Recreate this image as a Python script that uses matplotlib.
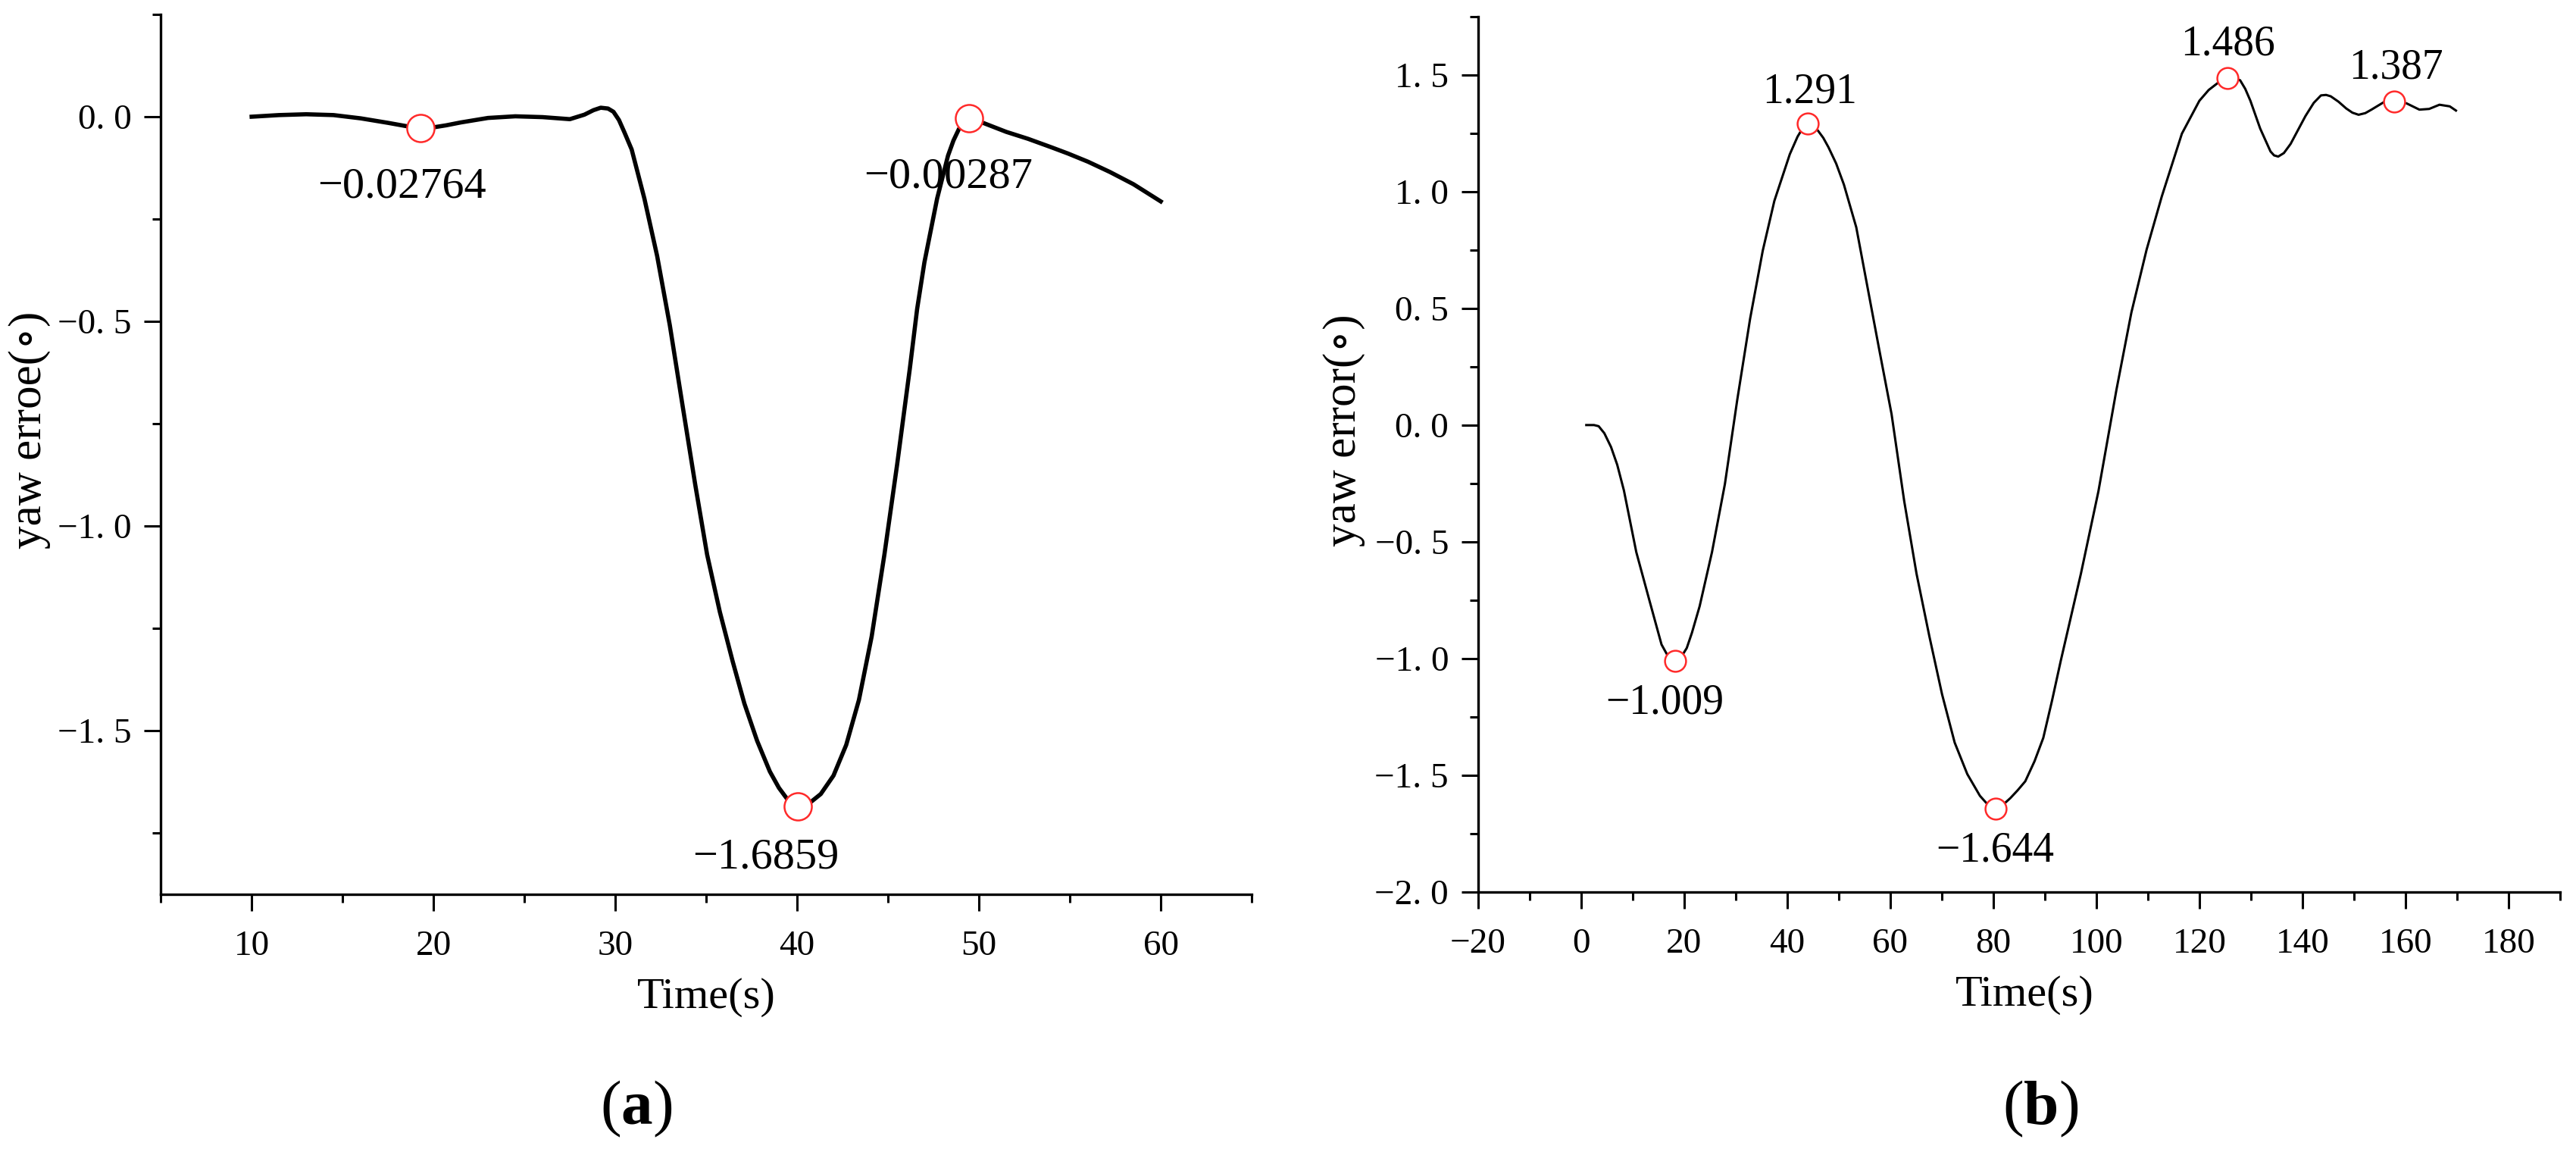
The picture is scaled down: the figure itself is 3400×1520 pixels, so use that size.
import numpy as np
import matplotlib.pyplot as plt
from matplotlib.ticker import MultipleLocator, FuncFormatter

plt.rcParams['font.family'] = ['Liberation Serif', 'DejaVu Serif']
plt.rcParams['mathtext.fontset'] = 'custom'
plt.rcParams['mathtext.rm'] = 'Liberation Serif'
plt.rcParams['mathtext.bf'] = 'Liberation Serif:bold'

# (a) yaw error over time
time_a = [10.0, 11.5, 13.0, 14.5, 16.0, 17.5, 18.5, 19.3, 20.0, 20.7, 21.5, 23.0,
          24.5, 26.0, 27.5, 28.3, 28.8, 29.2, 29.6, 29.9, 30.2, 30.5, 30.9, 31.6,
          32.3, 33.0, 33.7, 34.4, 35.05, 35.75, 36.45, 37.1, 37.8, 38.5, 39.0, 39.5,
          40.03, 40.6, 41.3, 42.0, 42.7, 43.4, 44.1, 44.8, 45.5, 46.2, 46.6, 47.0,
          47.7, 48.3, 48.6, 48.9, 49.2, 49.45, 49.7, 50.0, 50.4, 51.5, 52.7, 54.0,
          54.9, 56.0, 57.2, 58.5, 60.0]
yaw_a = [0.000, 0.004, 0.006, 0.004, -0.004, -0.015, -0.023, -0.0276, -0.026, -0.021,
         -0.014, -0.003, 0.001, -0.001, -0.006, 0.005, 0.016, 0.022, 0.020, 0.012,
         -0.008, -0.038, -0.08, -0.20, -0.34, -0.51, -0.706, -0.90, -1.07, -1.21,
         -1.33, -1.434, -1.525, -1.60, -1.640, -1.670, -1.6859, -1.680, -1.655, -1.61,
         -1.535, -1.425, -1.27, -1.07, -0.85, -0.615, -0.47, -0.356, -0.20, -0.095,
         -0.058, -0.030, -0.012, -0.00287, -0.005, -0.011, -0.018, -0.037, -0.054,
         -0.075, -0.09, -0.11, -0.135, -0.165, -0.207]
peak_t_a = [19.3, 40.03, 49.45]
peak_v_a = [-0.02764, -1.6859, -0.00287]
peak_lbl_a = ['\u22120.02764', '\u22121.6859', '\u22120.00287']
lbl_off_a = [(-9, -28), (-15, -24), (-10, -28)]

# (b) yaw error over time
time_b = [1.0, 2.5, 3.4, 4.5, 5.8, 7.0, 8.3, 10.7, 13.2, 15.6, 16.6, 17.4, 18.2,
          19.0, 19.8, 20.5, 21.5, 23.0, 25.4, 27.9, 30.3, 32.8, 35.25, 37.5, 39.0,
          40.5, 42.0, 43.0, 44.0, 45.0, 46.0, 47.0, 48.0, 49.5, 51.0, 53.4, 55.5,
          57.8, 60.25, 62.7, 65.1, 67.6, 70.05, 72.5, 74.95, 77.4, 78.9, 80.4, 81.8,
          83.3, 84.7, 86.2, 88.0, 89.7, 91.4, 93.1, 97.0, 100.4, 103.9, 106.8, 109.75,
          112.7, 116.6, 120.0, 121.8, 123.5, 124.5, 125.5, 126.7, 127.9, 128.9, 129.9,
          131.8, 133.8, 134.5, 135.3, 136.4, 137.7, 140.6, 142.2, 143.6, 144.6, 145.5,
          147.0, 148.5, 149.7, 150.9, 152.2, 153.4, 155.8, 157.8, 160.2, 162.7, 164.6,
          166.6, 168.6, 169.8]
yaw_b = [0.000, 0.000, -0.005, -0.035, -0.094, -0.17, -0.28, -0.544, -0.747, -0.94,
         -0.980, -1.000, -1.009, -1.000, -0.980, -0.955, -0.890, -0.776, -0.544,
         -0.253, 0.108, 0.456, 0.747, 0.96, 1.06, 1.16, 1.235, 1.272, 1.291, 1.285,
         1.26, 1.23, 1.19, 1.12, 1.03, 0.847, 0.60, 0.33, 0.047, -0.325, -0.637,
         -0.906, -1.153, -1.36, -1.495, -1.588, -1.625, -1.644, -1.628, -1.598,
         -1.565, -1.526, -1.44, -1.34, -1.18, -1.009, -0.637, -0.284, 0.151, 0.482,
         0.751, 0.979, 1.248, 1.389, 1.435, 1.464, 1.480, 1.486, 1.485, 1.477, 1.440,
         1.389, 1.27, 1.172, 1.155, 1.150, 1.165, 1.204, 1.324, 1.380, 1.412, 1.414,
         1.408, 1.385, 1.356, 1.338, 1.329, 1.336, 1.351, 1.383, 1.387, 1.378, 1.351,
         1.354, 1.372, 1.365, 1.347]
peak_t_b = [18.2, 44.0, 80.4, 125.5, 157.8]
peak_v_b = [-1.009, 1.291, -1.644, 1.486, 1.387]
peak_lbl_b = ['\u22121.009', '1.291', '\u22121.644', '1.486', '1.387']
lbl_off_b = [(-5, -20), (1, 15), (0, -20), (0, 16), (1, 16)]


def ytick_fmt(v, pos):
    return f"{v:.1f}".replace('-', '\u2212').replace('.', '. ')


def xtick_fmt(v, pos):
    return f"{v:.0f}".replace('-', '\u2212')


def style_axes(ax):
    for s in ['top', 'right']:
        ax.spines[s].set_visible(False)
    for s in ['left', 'bottom']:
        ax.spines[s].set_linewidth(1.2)
    ax.tick_params(which='major', direction='out', length=8, width=1.1, labelsize=17)
    ax.tick_params(which='minor', direction='out', length=4, width=1.1)
    ax.tick_params(axis='x', which='major', pad=9)
    ax.tick_params(axis='y', which='major', pad=6)
    ax.yaxis.set_major_formatter(FuncFormatter(ytick_fmt))
    ax.xaxis.set_major_formatter(FuncFormatter(xtick_fmt))


fig = plt.figure(figsize=(17, 7.6), dpi=200)

# panel a
ax1 = fig.add_axes([0.0624, 0.2237, 0.4235, 0.7638])
ax1.plot(time_a, yaw_a, color='black', lw=2.0, zorder=2)
ax1.plot(peak_t_a, peak_v_a, 'o', ms=13, mfc='white', mec='#ff2a2a', mew=0.9, zorder=3)
for t, v, s, off in zip(peak_t_a, peak_v_a, peak_lbl_a, lbl_off_a):
    ax1.annotate(s, (t, v), xytext=off, textcoords='offset points',
                 ha='center', va='center', fontsize=21)
ax1.set_xlim(5, 65)
ax1.set_ylim(-1.9, 0.25)
ax1.xaxis.set_major_locator(MultipleLocator(10))
ax1.xaxis.set_minor_locator(MultipleLocator(5))
ax1.yaxis.set_major_locator(MultipleLocator(0.5))
ax1.yaxis.set_minor_locator(MultipleLocator(0.25))
style_axes(ax1)
ax1.set_xlabel('Time(s)', fontsize=21)
ax1.set_ylabel('yaw erroe(\u2218)', fontsize=22)
ax1.xaxis.set_label_coords(0.5, -0.095)
ax1.yaxis.set_label_coords(-0.101, 0.528)

# panel b
ax2 = fig.add_axes([0.5738, 0.2257, 0.42, 0.76])
ax2.plot(time_b, yaw_b, color='black', lw=1.1, zorder=2)
ax2.plot(peak_t_b, peak_v_b, 'o', ms=10, mfc='white', mec='#ff2a2a', mew=0.9, zorder=3)
for t, v, s, off in zip(peak_t_b, peak_v_b, peak_lbl_b, lbl_off_b):
    ax2.annotate(s, (t, v), xytext=off, textcoords='offset points',
                 ha='center', va='center', fontsize=20)
ax2.set_xlim(-20, 190)
ax2.set_ylim(-2.0, 1.75)
ax2.xaxis.set_major_locator(MultipleLocator(20))
ax2.xaxis.set_minor_locator(MultipleLocator(10))
ax2.yaxis.set_major_locator(MultipleLocator(0.5))
ax2.yaxis.set_minor_locator(MultipleLocator(0.25))
style_axes(ax2)
ax2.set_xlabel('Time(s)', fontsize=21)
ax2.set_ylabel('yaw error(\u2218)', fontsize=22)
ax2.xaxis.set_label_coords(0.505, -0.095)
ax2.yaxis.set_label_coords(-0.104, 0.527)

fig.text(0.247, 0.037, r'($\mathbf{a}$)', ha='center', va='center', fontsize=30)
fig.text(0.792, 0.037, r'($\mathbf{b}$)', ha='center', va='center', fontsize=30)

fig.savefig('out.png', dpi=200)
